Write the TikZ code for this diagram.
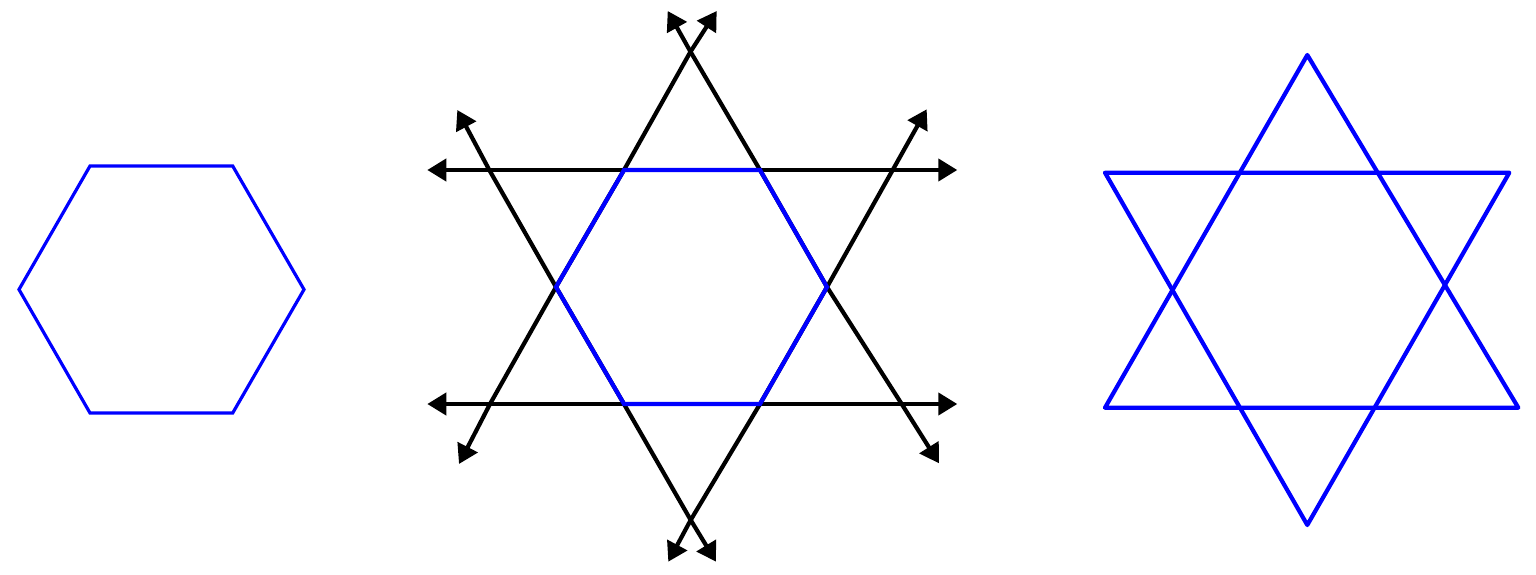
\documentclass[tikz,border=0pt]{standalone}
\usetikzlibrary{arrows.meta}
\tikzset{
  hexline/.style={draw=blue, line width=3.2pt},
  extline/.style={draw=black, line width=4.2pt, {Triangle[length=19pt,width=22pt]}-{Triangle[length=19pt,width=22pt]}},
  midhex/.style={draw=blue, line width=4.2pt},
  starline/.style={draw=blue, line width=4.2pt, line join=round}
}
\begin{document}
\begin{tikzpicture}[x=1pt,y=-1pt]
\useasboundingbox (0,0) rectangle (1536,575);
% left hexagon
\coordinate (a1) at (90,166);
\coordinate (a2) at (232.7,166);
\coordinate (a3) at (304,289.5);
\coordinate (a4) at (232.7,413);
\coordinate (a5) at (90,413);
\coordinate (a6) at (19,289.5);
\draw[hexline] (a1) -- (a2) -- (a3) -- (a4) -- (a5) -- (a6) -- cycle;
% middle figure: hexagon vertices
\coordinate (h1) at (624,170);
\coordinate (h2) at (760,170);
\coordinate (h3) at (827,287);
\coordinate (h4) at (760,404);
\coordinate (h5) at (624,404);
\coordinate (h6) at (556,287);
% star points
\coordinate (st) at (690.5,51.7);
\coordinate (sb) at (690.7,520);
\coordinate (sul) at (489.3,170);
\coordinate (sur) at (892.7,170);
\coordinate (sll) at (490,404);
\coordinate (slr) at (901.7,404);
% arrow tips
\coordinate (t1l) at (427.3,170);
\coordinate (t1r) at (957.3,170);
\coordinate (t2l) at (427.3,404);
\coordinate (t2r) at (957.3,404);
\coordinate (tta) at (716.7,11);
\coordinate (ttb) at (667.7,11);
\coordinate (tll) at (459,464);
\coordinate (tlr) at (939,463.3);
\coordinate (tul) at (457.3,110);
\coordinate (tur) at (926.7,109.3);
\coordinate (tbr) at (716,561.7);
\coordinate (tbl) at (668.3,561.7);
\draw[extline] (t1l) -- (t1r);
\draw[extline] (t2l) -- (t2r);
\draw[extline] (tta) -- (st) -- (h1) -- (h6) -- (sll) -- (tll);
\draw[extline] (ttb) -- (st) -- (h2) -- (h3) -- (slr) -- (tlr);
\draw[extline] (tul) -- (sul) -- (h6) -- (h5) -- (sb) -- (tbr);
\draw[extline] (tur) -- (sur) -- (h3) -- (h4) -- (sb) -- (tbl);
\draw[midhex] (h1) -- (h2) -- (h3) -- (h4) -- (h5) -- (h6) -- cycle;
% right star
\coordinate (r1) at (1307.3,55);
\coordinate (r2) at (1105,407.7);
\coordinate (r3) at (1518.3,407.7);
\coordinate (q1) at (1105,172.7);
\coordinate (q2) at (1509.3,172.7);
\coordinate (q3) at (1307.3,525);
\draw[starline] (r1) -- (r2) -- (r3) -- cycle;
\draw[starline] (q1) -- (q2) -- (q3) -- cycle;
\end{tikzpicture}
\end{document}
